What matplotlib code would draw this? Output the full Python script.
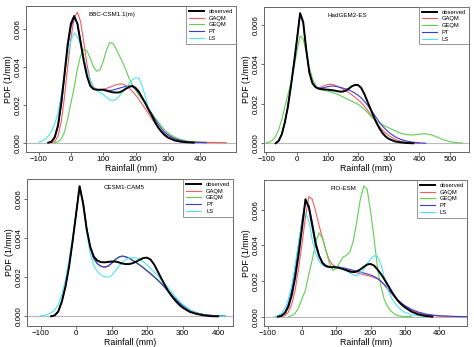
import numpy as np
import matplotlib
matplotlib.use('Agg')
import matplotlib.pyplot as plt

plt.rcParams['font.family'] = ['Liberation Sans', 'DejaVu Sans']

n = np.nan

# rainfall grid (mm) on which the densities were read; values below are in 1e-3 1/mm
rain = list(range(-100, 300, 10)) + list(range(300, 541, 20))

models = ['observed', 'GAQM', 'GEQM', 'PT', 'LS']

# BBC-CSM1.1(m)
bbc_obs = [n, n, n, 0, 0.05, 0.3, 0.9, 2.1, 3.6, 5.2,
           6.3, 6.7, 6.3, 5.3, 4.3, 3.5, 3.0, 2.83, 2.8, 2.8,
           2.8, 2.75, 2.7, 2.66, 2.65, 2.66, 2.74, 2.85, 2.95, 3.0,
           2.9, 2.7, 2.4, 2.1, 1.75, 1.45, 1.1, 0.8, 0.58, 0.4,
           0.27, 0.12, 0.05, 0.02, 0, n, n, n, n, n, n, n, n]
bbc_gaqm = [n, n, n, n, 0, 0.05, 0.35, 1.1, 2.4, 4.0,
            5.5, 6.6, 6.9, 6.4, 5.3, 4.1, 3.3, 2.95, 2.82, 2.8,
            2.82, 2.87, 2.93, 3.0, 3.06, 3.1, 3.1, 3.02, 2.88, 2.72,
            2.52, 2.3, 2.05, 1.8, 1.53, 1.27, 1.03, 0.82, 0.63, 0.48,
            0.36, 0.2, 0.11, 0.06, 0.04, 0.03, 0.02, 0.01, 0.005, 0, n, n, n]
bbc_geqm = [n, n, n, n, n, 0, 0.05, 0.2, 0.55, 1.25,
            2.1, 2.9, 3.9, 4.6, 4.95, 4.85, 4.45, 4.0, 3.78, 3.85,
            4.3, 4.9, 5.3, 5.25, 4.95, 4.6, 4.25, 3.85, 3.4, 3.05,
            2.78, 2.52, 2.3, 2.05, 1.8, 1.55, 1.32, 1.1, 0.88, 0.68,
            0.52, 0.3, 0.16, 0.08, 0.04, 0.01, 0, n, n, n, n, n, n]
bbc_pt = [n, n, n, 0, 0.05, 0.25, 0.85, 1.9, 3.4, 5.0,
          6.1, 6.6, 6.3, 5.4, 4.4, 3.55, 3.05, 2.85, 2.8, 2.8,
          2.8, 2.77, 2.76, 2.78, 2.83, 2.88, 2.93, 2.98, 3.0, 2.96,
          2.83, 2.63, 2.38, 2.12, 1.83, 1.53, 1.24, 0.98, 0.75, 0.56,
          0.42, 0.22, 0.11, 0.05, 0.02, 0.01, 0, n, n, n, n, n, n]
bbc_ls = [0.02, 0.08, 0.18, 0.35, 0.6, 1.0, 1.55, 2.5, 3.6, 4.6,
          5.4, 5.8, 5.6, 5.2, 4.5, 3.8, 3.3, 2.95, 2.75, 2.65,
          2.55, 2.4, 2.27, 2.22, 2.3, 2.47, 2.68, 2.9, 3.12, 3.32,
          3.43, 3.42, 3.05, 2.45, 1.85, 1.4, 1.05, 0.8, 0.6, 0.43,
          0.3, 0.14, 0.06, 0.02, 0, n, n, n, n, n, n, n, n]

# HadGEM2-ES
had_obs = [n, n, n, 0, 0.12, 0.45, 1.05, 1.85, 2.9, 4.05,
           5.3, 6.6, 6.15, 4.75, 3.6, 3.05, 2.85, 2.77, 2.75, 2.73,
           2.72, 2.7, 2.68, 2.65, 2.62, 2.62, 2.68, 2.78, 2.9, 2.96,
           2.95, 2.8, 2.5, 2.12, 1.75, 1.37, 1.02, 0.73, 0.5, 0.33,
           0.22, 0.09, 0.04, 0.01, 0, n, n, n, n, n, n, n, n]
had_gaqm = [n, n, n, 0, 0.12, 0.45, 1.05, 1.85, 2.9, 4.05,
            5.3, 6.6, 6.15, 4.78, 3.65, 3.1, 2.88, 2.8, 2.87, 2.93,
            2.98, 3.0, 2.97, 2.9, 2.82, 2.74, 2.65, 2.55, 2.45, 2.32,
            2.2, 2.05, 1.88, 1.68, 1.47, 1.25, 1.04, 0.84, 0.66, 0.5,
            0.38, 0.2, 0.09, 0.04, 0.01, 0, n, n, n, n, n, n, n]
had_geqm = [0.02, 0.06, 0.15, 0.35, 0.7, 1.2, 1.85, 2.45, 3.1, 3.85,
            4.7, 5.45, 5.3, 4.6, 3.85, 3.3, 2.95, 2.77, 2.7, 2.68,
            2.65, 2.6, 2.55, 2.5, 2.43, 2.35, 2.27, 2.2, 2.12, 2.05,
            1.97, 1.85, 1.72, 1.57, 1.4, 1.25, 1.12, 1.02, 0.93, 0.85,
            0.78, 0.63, 0.5, 0.43, 0.42, 0.46, 0.48, 0.42, 0.3, 0.17, 0.08, 0.03, 0.01]
had_pt = [n, n, n, 0, 0.12, 0.45, 1.05, 1.85, 2.9, 4.05,
          5.3, 6.6, 6.15, 4.75, 3.6, 3.08, 2.88, 2.8, 2.8, 2.83,
          2.87, 2.9, 2.9, 2.88, 2.84, 2.8, 2.75, 2.7, 2.62, 2.54,
          2.43, 2.3, 2.13, 1.93, 1.72, 1.5, 1.27, 1.05, 0.86, 0.7,
          0.55, 0.33, 0.19, 0.1, 0.05, 0.02, 0, n, n, n, n, n, n]
had_ls = [n, n, n, 0, 0.13, 0.47, 1.08, 1.9, 2.95, 4.1,
          5.35, 6.58, 6.1, 4.72, 3.62, 3.08, 2.87, 2.78, 2.75, 2.73,
          2.72, 2.7, 2.68, 2.65, 2.63, 2.63, 2.69, 2.79, 2.9, 2.95,
          2.93, 2.78, 2.48, 2.1, 1.73, 1.36, 1.02, 0.74, 0.51, 0.34,
          0.23, 0.1, 0.04, 0.01, 0, n, n, n, n, n, n, n, n]

# CESM1-CAM5
cesm_obs = [n, n, n, 0, 0.05, 0.25, 0.75, 1.5, 2.5, 3.8,
            5.2, 6.65, 5.75, 4.45, 3.55, 3.05, 2.85, 2.77, 2.76, 2.78,
            2.8, 2.8, 2.76, 2.7, 2.67, 2.67, 2.72, 2.8, 2.9, 2.98,
            3.0, 2.9, 2.65, 2.3, 1.95, 1.6, 1.28, 1.02, 0.8, 0.6,
            0.45, 0.23, 0.12, 0.05, 0.01, 0, n, n, n, n, n, n, n]
cesm_gaqm = [n, n, n, 0, 0.05, 0.25, 0.75, 1.5, 2.5, 3.8,
             5.25, 6.65, 5.85, 4.5, 3.5, 2.95, 2.68, 2.55, 2.5, 2.55,
             2.7, 2.88, 3.02, 3.08, 3.05, 2.97, 2.87, 2.75, 2.62, 2.48,
             2.33, 2.18, 2.02, 1.86, 1.68, 1.48, 1.28, 1.08, 0.88, 0.7,
             0.55, 0.31, 0.16, 0.08, 0.04, 0.02, 0, n, n, n, n, n, n]
cesm_geqm = [n, n, n, 0, 0.05, 0.26, 0.76, 1.52, 2.52, 3.82,
             5.27, 6.63, 5.82, 4.47, 3.48, 2.95, 2.7, 2.57, 2.53, 2.58,
             2.72, 2.9, 3.03, 3.07, 3.03, 2.95, 2.85, 2.74, 2.62, 2.49,
             2.35, 2.2, 2.04, 1.88, 1.7, 1.5, 1.3, 1.1, 0.9, 0.72,
             0.56, 0.32, 0.17, 0.08, 0.03, 0.01, 0, n, n, n, n, n, n]
cesm_pt = [n, n, n, 0, 0.05, 0.25, 0.75, 1.5, 2.5, 3.8,
           5.25, 6.64, 5.84, 4.5, 3.5, 2.96, 2.69, 2.56, 2.52, 2.56,
           2.71, 2.89, 3.02, 3.08, 3.04, 2.96, 2.86, 2.74, 2.61, 2.47,
           2.32, 2.17, 2.01, 1.85, 1.67, 1.47, 1.27, 1.07, 0.88, 0.7,
           0.55, 0.32, 0.17, 0.09, 0.05, 0.03, 0.01, n, n, n, n, n, n]
cesm_ls = [0.02, 0.05, 0.1, 0.18, 0.32, 0.6, 1.1, 1.85, 2.85, 4.0,
           5.3, 6.6, 5.8, 4.3, 3.2, 2.6, 2.3, 2.12, 2.02, 2.0,
           2.08, 2.3, 2.55, 2.75, 2.9, 2.98, 3.0, 2.98, 2.9, 2.78,
           2.62, 2.45, 2.27, 2.08, 1.88, 1.67, 1.45, 1.22, 1.0, 0.8,
           0.62, 0.34, 0.16, 0.07, 0.03, 0.01, 0, n, n, n, n, n, n]

# FIO-ESM
fio_obs = [n, n, n, 0, 0.05, 0.2, 0.55, 1.2, 2.2, 3.5,
           5.0, 6.6, 6.15, 5.1, 4.05, 3.4, 3.0, 2.83, 2.78, 2.78,
           2.77, 2.73, 2.67, 2.6, 2.53, 2.5, 2.55, 2.65, 2.8, 2.93,
           2.96, 2.87, 2.65, 2.4, 2.1, 1.78, 1.45, 1.15, 0.88, 0.68,
           0.52, 0.27, 0.12, 0.04, 0, n, n, n, n, n, n, n, n]
fio_gaqm = [n, n, n, n, 0, 0.05, 0.25, 0.7, 1.5, 2.7,
            4.1, 5.6, 6.75, 6.6, 5.9, 5.1, 4.4, 3.7, 3.15, 2.9,
            2.8, 2.75, 2.7, 2.64, 2.58, 2.52, 2.46, 2.41, 2.36, 2.31,
            2.26, 2.2, 2.12, 1.98, 1.78, 1.55, 1.32, 1.1, 0.9, 0.73,
            0.58, 0.35, 0.2, 0.11, 0.06, 0.03, 0.02, 0.01, 0, n, n, n, n]
fio_geqm = [n, n, n, n, n, n, 0, 0.05, 0.2, 0.5,
            1.0, 1.5, 2.4, 3.2, 4.2, 4.7, 4.4, 3.7, 3.0, 2.6,
            2.7, 3.05, 3.35, 3.45, 3.65, 4.3, 5.4, 6.6, 7.35, 7.15,
            5.9, 4.4, 2.75, 1.7, 0.95, 0.55, 0.3, 0.14, 0.05, 0.02,
            0.01, 0, n, n, n, n, n, n, n, n, n, n, n]
fio_pt = [n, n, n, 0, 0.06, 0.25, 0.7, 1.5, 2.6, 4.0,
          5.4, 6.4, 6.25, 5.3, 4.2, 3.45, 3.05, 2.88, 2.82, 2.8,
          2.8, 2.78, 2.75, 2.7, 2.65, 2.6, 2.55, 2.5, 2.45, 2.4,
          2.34, 2.26, 2.15, 2.0, 1.8, 1.57, 1.34, 1.12, 0.93, 0.76,
          0.62, 0.4, 0.25, 0.15, 0.09, 0.05, 0.03, 0.015, 0.005, 0, n, n, n]
fio_ls = [n, n, 0, 0.05, 0.18, 0.45, 0.95, 1.75, 2.9, 4.2,
          5.3, 5.85, 5.4, 4.3, 3.55, 3.1, 2.9, 2.82, 2.8, 2.8,
          2.8, 2.78, 2.72, 2.6, 2.45, 2.33, 2.3, 2.42, 2.65, 2.95,
          3.25, 3.42, 3.4, 2.95, 2.2, 1.55, 1.08, 0.78, 0.54, 0.36,
          0.24, 0.1, 0.04, 0.01, 0, n, n, n, n, n, n, n, n]

colors = {'observed': 'black', 'GAQM': '#f25c5c', 'GEQM': '#5fcf4f',
          'PT': '#3a3ad6', 'LS': '#4fe3f2'}

# (title, series, axes rect in pixels [left, top, right, bottom], xlim, ylim, xticks, title x)
panels = [
    ('BBC-CSM1.1(m)', [bbc_obs, bbc_gaqm, bbc_geqm, bbc_pt, bbc_ls],
     (26, 6, 236, 151.7), (-139, 511), (-0.48, 7.23), range(-100, 401, 100), 0.41),
    ('HadGEM2-ES', [had_obs, had_gaqm, had_geqm, had_pt, had_ls],
     (263.7, 6.7, 468.7, 151.7), (-109, 561), (-0.43, 6.93), range(-100, 501, 100), 0.41),
    ('CESM1-CAM5', [cesm_obs, cesm_gaqm, cesm_geqm, cesm_pt, cesm_ls],
     (26.7, 179, 233.3, 325.7), (-139, 443), (-0.48, 7.02), range(-100, 401, 100), 0.47),
    ('FIO-ESM', [fio_obs, fio_gaqm, fio_geqm, fio_pt, fio_ls],
     (264.3, 180, 467, 325.7), (-110, 481), (-0.51, 7.68), range(-100, 401, 100), 0.39),
]

W, H = 474, 347
fig = plt.figure(figsize=(W / 100, H / 100), dpi=100)
x = np.array(rain, dtype=float)

for title, series, (l, t, r, b), xlim, ylim, xticks, tx in panels:
    ax = fig.add_axes([l / W, 1 - b / H, (r - l) / W, (b - t) / H])
    ax.axhline(0, color='#b8b8b8', lw=0.8, zorder=1)
    handles = {}
    for name, vals in list(zip(models, series))[1:] + [(models[0], series[0])]:
        y = np.array(vals, dtype=float) * 1e-3
        lw = 1.4 if name == 'observed' else 0.8
        line, = ax.plot(x, y, color=colors[name], lw=lw, zorder=3 if name == 'observed' else 2)
        handles[name] = line
    ax.set_xlim(*xlim)
    ax.set_ylim(ylim[0] * 1e-3, ylim[1] * 1e-3)
    ax.set_xticks(list(xticks))
    ax.set_yticks([0, 0.002, 0.004, 0.006])
    ax.set_yticklabels(['0.000', '0.002', '0.004', '0.006'], rotation=90, va='center')
    ax.tick_params(length=2.2, width=0.6, pad=1, labelsize=5.8, color='#555555')
    for s in ax.spines.values():
        s.set_color('#666666')
        s.set_linewidth(0.7)
    ax.set_xlabel('Rainfall (mm)', fontsize=6.3, labelpad=0.5)
    ax.set_ylabel('PDF (1/mm)', fontsize=6.3, labelpad=1)
    ax.text(tx, 0.94, title, transform=ax.transAxes, ha='center', va='center', fontsize=4.5)
    leg = ax.legend([handles[m] for m in models], models, loc='upper right', fontsize=4.2,
                    frameon=True, fancybox=False, borderaxespad=0, handlelength=2.6,
                    labelspacing=0.28, borderpad=0.5, handletextpad=0.8)
    leg.get_frame().set_edgecolor('#666666')
    leg.get_frame().set_linewidth(0.6)

fig.savefig('out.png', dpi=100)
